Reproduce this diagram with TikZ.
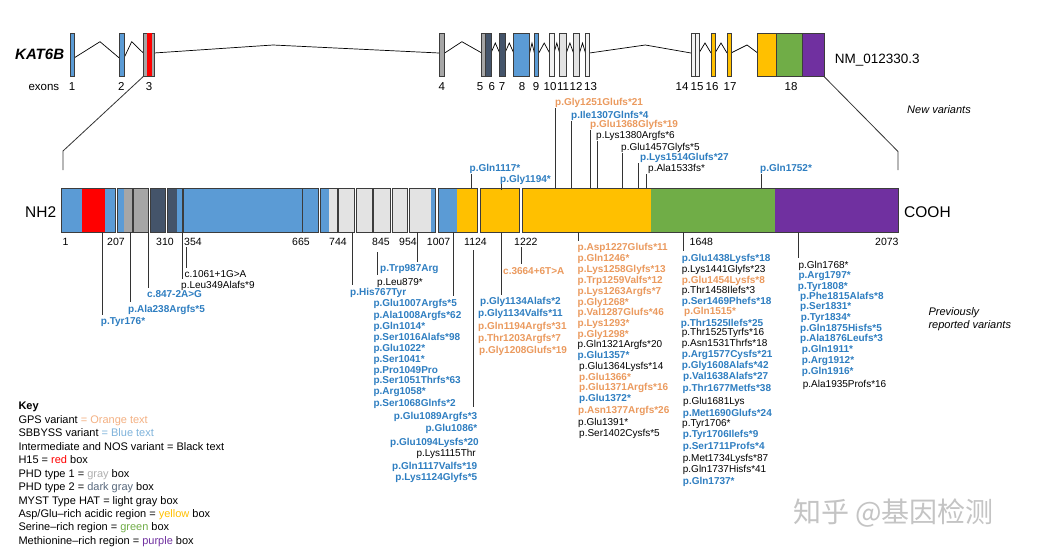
\documentclass[tikz,border=0pt]{standalone}
\usepackage{fontspec}
\setmainfont{Liberation Sans}
\newfontfamily\cjk{Noto Sans CJK SC}
\definecolor{cblue}{HTML}{5B9BD5}
\definecolor{cred}{HTML}{FF0000}
\definecolor{cgray}{HTML}{A6A6A6}
\definecolor{cdark}{HTML}{44546A}
\definecolor{clight}{HTML}{E3E3E3}
\definecolor{cwhite}{HTML}{F2F2F2}
\definecolor{cyel}{HTML}{FFC000}
\definecolor{cgreen}{HTML}{70AD47}
\definecolor{cpurp}{HTML}{7030A0}
\definecolor{outl}{HTML}{3C3C3C}
\definecolor{linec}{HTML}{333333}
\definecolor{torange}{HTML}{EB9A5E}
\definecolor{tblue}{HTML}{2E7EC1}
\definecolor{korange}{HTML}{F4B183}
\definecolor{kblue}{HTML}{7FB3DB}
\definecolor{kgray}{HTML}{B0B0B0}
\definecolor{kdark}{HTML}{5A6A7E}
\definecolor{wmark}{HTML}{C4C4C4}
\begin{document}
\begin{tikzpicture}[x=1pt,y=-1pt,
  lab/.style={anchor=west, inner sep=0pt, text height=7pt, text depth=0pt, font=\fontsize{10}{11}\selectfont},
  ob/.style={lab, text=torange, font=\fontsize{10}{11}\selectfont\bfseries},
  bb/.style={lab, text=tblue, font=\fontsize{10}{11}\selectfont\bfseries},
  kb/.style={lab, text=black},
  obr/.style={ob, anchor=east},
  bbr/.style={bb, anchor=east},
  kbr/.style={kb, anchor=east},
  num/.style={anchor=west, inner sep=0pt, text height=7.5pt, text depth=0pt, font=\fontsize{10.5}{12}\selectfont},
  exn/.style={anchor=center, inner sep=0pt, text height=8pt, text depth=0pt, font=\fontsize{11.5}{13}\selectfont},
  keyt/.style={anchor=west, inner sep=0pt, text height=8pt, text depth=0pt, font=\fontsize{11}{13}\selectfont},
  ital/.style={keyt, font=\fontsize{11}{13}\selectfont\itshape},
  big/.style={anchor=west, inner sep=0pt, text height=11pt, text depth=0pt, font=\fontsize{15.5}{18}\selectfont},
  seg/.style={draw=outl, line width=0.8pt},
  ex/.style={draw=outl, line width=0.7pt},
  intr/.style={draw=black, line width=0.7pt},
  tick/.style={draw=linec, line width=0.8pt}]
\fill[white] (0,0) rectangle (1042,557);
\useasboundingbox (0,0) rectangle (1042,557);

% ---------------- gene structure ----------------
\node[big, font=\fontsize{15}{18}\selectfont\bfseries\itshape] (gene) at (15,54) {KAT6B};
\node[keyt, font=\fontsize{11.5}{13}\selectfont] (exons) at (28.3,86.7) {exons};
\node[keyt, font=\fontsize{13.5}{16}\selectfont, text height=9.5pt] (nm) at (834.7,58.3) {NM\_012330.3};

% introns
\draw[intr] (74,58) -- (100,41.7) -- (119.3,58);
\draw[intr] (124,58) -- (131.7,41.7) -- (143.3,53);
\draw[intr] (154,53) -- (273,45) -- (439.1,53);
\draw[intr] (444.7,53) -- (461.9,41.7) -- (481.8,53);
\draw[intr] (491,53) -- (495.3,43) -- (499.7,53);
\draw[intr] (504.9,53) -- (509.3,43) -- (513.7,53);
\draw[intr] (529.6,53) -- (532,43) -- (534.4,53);
\draw[intr] (538.8,53) -- (544.2,43) -- (549.6,53);
\draw[intr] (554,53) -- (556.8,43) -- (559.6,53);
\draw[intr] (566.3,53) -- (569.9,43) -- (573.5,53);
\draw[intr] (579.5,53) -- (582.5,43) -- (585.5,53);
\draw[intr] (589.5,53) -- (645.3,45) -- (691,53);
\draw[intr] (699,53) -- (705,43) -- (711,53);
\draw[intr] (715,53) -- (721,43) -- (727,53);
\draw[intr] (731,53) -- (747,45) -- (757.7,53);

% exons
\draw[ex, fill=cblue] (70.7,33) rectangle (74,76);
\draw[ex, fill=cblue] (119.3,33) rectangle (124,76);
\draw[ex, fill=cgray] (143.3,33) rectangle (154,76);
\fill[cred] (146.7,33.4) rectangle (151.7,75.6);
\draw[ex, fill=cgray] (439.1,33) rectangle (444.7,76);
\draw[ex, fill=cgray] (481.8,33) rectangle (485.8,76);
\draw[ex, fill=cdark] (485.8,33) rectangle (491,76);
\draw[ex, fill=cdark] (499.7,33) rectangle (504.9,76);
\draw[ex, fill=cblue] (513.7,33) rectangle (529.6,76);
\draw[ex, fill=cblue] (534.4,33) rectangle (538.8,76);
\draw[ex, fill=cwhite] (549.6,33) rectangle (554,76);
\draw[ex, fill=clight] (559.6,33) rectangle (566.3,76);
\draw[ex, fill=clight] (573.5,33) rectangle (579.5,76);
\draw[ex, fill=cwhite] (585.5,33) rectangle (589.5,76);
\draw[ex, fill=cwhite] (691,33) rectangle (695,76);
\draw[ex, fill=cwhite] (695,33) rectangle (699,76);
\draw[ex, fill=cyel] (711,33) rectangle (715,76);
\draw[ex, fill=cyel] (727,33) rectangle (731,76);
\fill[cyel] (757.7,33) rectangle (776,76);
\fill[cgreen] (776,33) rectangle (802,76);
\fill[cpurp] (802,33) rectangle (824,76);
\draw[ex] (757.7,33) rectangle (824,76);
\draw[ex] (776,33) -- (776,76);
\draw[ex] (802,33) -- (802,76);

% exon numbers
\foreach \n/\x in {1/72,2/121.3,3/149,4/441.7,5/480,6/491.7,7/502,8/522,9/536,10/550,11/563,12/576,13/590.5,14/682,15/697,16/712,17/730,18/791}
  \node[exn] (e\n) at (\x,86.7) {\n};

% zoom lines
\draw[tick] (143.3,76.5) -- (63,151) -- (63,170);
\draw[tick] (824,76.5) -- (898,151.5) -- (898,170);

\node[ital] (newv) at (907,109) {New variants};
\node[ital] (prev1) at (928.3,311) {Previously};
\node[ital] (prev2) at (928.3,324.3) {reported variants};

% ---------------- protein bar ----------------
\node[big] (nh2) at (25,211.7) {NH2};
\node[big] (cooh) at (904,212) {COOH};

\fill[cblue] (61,188) rectangle (82,232);
\fill[cred] (82,188) rectangle (105,232);
\fill[cblue] (105,188) rectangle (115,232);
\fill[cblue] (117,188) rectangle (124,232);
\fill[cgray] (124,188) rectangle (132,232);
\fill[cgray] (133,188) rectangle (148,232);
\fill[cdark] (150,188) rectangle (165,232);
\fill[cdark] (167,188) rectangle (177,232);
\fill[cblue] (177,188) rectangle (182,232);
\fill[cblue] (183,188) rectangle (318,232);
\fill[cblue] (320,188) rectangle (329,232);
\fill[clight] (329,188) rectangle (337,232);
\fill[clight] (338,188) rectangle (354,232);
\fill[clight] (356,188) rectangle (372,232);
\fill[clight] (373,188) rectangle (390,232);
\fill[clight] (392,188) rectangle (407,232);
\fill[clight] (409,188) rectangle (431,232);
\fill[cblue] (431,188) rectangle (435,232);
\fill[cblue] (438,188) rectangle (457,232);
\fill[cyel] (457,188) rectangle (477,232);
\fill[cyel] (480,188) rectangle (519,232);
\fill[cyel] (522,188) rectangle (651,232);
\fill[cgreen] (651,188) rectangle (775,232);
\fill[cpurp] (775,188) rectangle (898,232);
\foreach \a/\b in {61/115,117/132,133/148,150/165,167/182,183/302,302/318,320/337,338/354,356/372,373/390,392/407,409/435,438/477,480/519,522/898}
  \draw[seg] (\a,188) rectangle (\b,232);

% position numbers
\foreach \t/\x in {1/62.5,207/107,310/156,354/184,665/292,744/329,845/372,954/399,1124/464,1222/514,1648/689.5,2073/875}
  \node[num] (n\t) at (\x,241.7) {\t};
\node[num, anchor=east] (n1007) at (450.5,241.7) {1007};

% ---------------- variants above ----------------
\node[bb] (a1) at (469.5,168) {p.Gln1117*};
\node[bb] (a2) at (500,179) {p.Gly1194*};
\node[ob] (a3) at (555,101.5) {p.Gly1251Glufs*21};
\node[bb] (a4) at (571,115) {p.Ile1307Glnfs*4};
\node[ob] (a5) at (590,124) {p.Glu1368Glyfs*19};
\node[kb] (a6) at (596,135) {p.Lys1380Argfs*6};
\node[kb] (a7) at (621,147) {p.Glu1457Glyfs*5};
\node[bb] (a8) at (640,157) {p.Lys1514Glufs*27};
\node[kb] (a9) at (648,168) {p.Ala1533fs*};
\node[bb] (a10) at (760,168) {p.Gln1752*};
\draw[tick] (471.5,188) -- (471.5,174);
\draw[tick] (501.5,190) -- (501.5,184);
\draw[tick] (555.7,188) -- (555.7,108);
\draw[tick] (571.8,188) -- (571.8,121);
\draw[tick] (590,188) -- (590,130);
\draw[tick] (597.8,188) -- (597.8,141);
\draw[tick] (622,188) -- (622,153);
\draw[tick] (638,188) -- (638,163);
\draw[tick] (646.4,188) -- (646.4,174);
\draw[tick] (761.5,188) -- (761.5,174);

% ---------------- variants below ----------------
\node[bb] (b1) at (100.7,321) {p.Tyr176*};
\node[bb] (b2) at (128,308.5) {p.Ala238Argfs*5};
\node[bb] (b3) at (147,294) {c.847-2A>G};
\node[kb] (b4) at (184.5,273.5) {c.1061+1G>A};
\node[kb] (b5) at (181,285) {p.Leu349Alafs*9};
\node[bb] (b6) at (350,291.5) {p.His767Tyr};
\node[bb] (b7) at (380,268) {p.Trp987Arg};
\node[kb] (b8) at (377,281.5) {p.Leu879*};
\draw[tick] (102.3,232) -- (102.3,315);
\draw[tick] (130,232) -- (130,302);
\draw[tick] (148.3,232) -- (148.3,288);
\draw[tick] (186,247) -- (186,268);
\draw[tick] (182.7,232) -- (182.7,279);
\draw[tick] (352.3,232) -- (352.3,285);
\draw[tick] (417.5,232) -- (417.5,262);
\draw[tick] (377.7,252) -- (377.7,275);

% group c
\foreach \i/\y/\t in {1/303/p.Glu1007Argfs*5,2/315/p.Ala1008Argfs*62,3/326/p.Gln1014*,4/337/p.Ser1016Alafs*98,5/348/p.Glu1022*,6/358.5/p.Ser1041*,7/369.5/p.Pro1049Pro,8/379.5/p.Ser1051Thrfs*63,9/391/p.Arg1058*,10/403/p.Ser1068Glnfs*2}
  \node[bb] (c\i) at (373.3,\y) {\t};
\draw[tick] (453,232) -- (453,296);

% group d (right aligned)
\node[bbr] (d1) at (477.5,415.5) {p.Glu1089Argfs*3};
\node[bbr] (d2) at (477.5,428) {p.Glu1086*};
\node[bbr] (d3) at (479,441.5) {p.Glu1094Lysfs*20};
\node[kbr] (d4) at (476,452.5) {p.Lys1115Thr};
\node[bbr] (d5) at (477.5,465.5) {p.Gln1117Valfs*19};
\node[bbr] (d6) at (477.5,477) {p.Lys1124Glyfs*5};
\draw[tick] (473,250) -- (473,407);

% group e
\node[ob] (e0) at (503,270.5) {c.3664+6T>A};
\node[bb] (e1) at (480,301) {p.Gly1134Alafs*2};
\node[bb] (e2) at (478,313) {p.Gly1134Valfs*11};
\node[ob] (e3) at (478,326) {p.Gln1194Argfs*31};
\node[ob] (e4) at (478,338) {p.Thr1203Argfs*7};
\node[ob] (e5) at (479,350) {p.Gly1208Glufs*19};
\draw[tick] (521,247) -- (521,264);
\draw[tick] (501,232) -- (501,295);

% group f
\node[ob] (f1) at (577.5,247) {p.Asp1227Glufs*11};
\node[ob] (f2) at (577.5,258) {p.Gln1246*};
\node[ob] (f3) at (577.5,269) {p.Lys1258Glyfs*13};
\node[ob] (f4) at (577.5,280) {p.Trp1259Valfs*12};
\node[ob] (f5) at (577.5,291) {p.Lys1263Argfs*7};
\node[ob] (f6) at (577.5,301.5) {p.Gly1268*};
\node[ob] (f7) at (577.5,312) {p.Val1287Glufs*46};
\node[ob] (f8) at (577.5,323) {p.Lys1293*};
\node[ob] (f9) at (577.5,333.5) {p.Gly1298*};
\node[kb] (f10) at (577.5,344) {p.Gln1321Argfs*20};
\node[bb] (f11) at (577.5,354.5) {p.Glu1357*};
\node[kb] (f12) at (579,365.5) {p.Glu1364Lysfs*14};
\node[ob] (f13) at (579,376.5) {p.Glu1366*};
\node[ob] (f14) at (579,387) {p.Glu1371Argfs*16};
\node[bb] (f15) at (579,397.5) {p.Glu1372*};
\node[ob] (f16) at (578,409.5) {p.Asn1377Argfs*26};
\node[kb] (f17) at (578,421.5) {p.Glu1391*};
\node[kb] (f18) at (579,432.5) {p.Ser1402Cysfs*5};
\draw[tick] (578.5,232) -- (578.5,241);

% group g
\node[bb] (g1) at (681.7,257.5) {p.Glu1438Lysfs*18};
\node[kb] (g2) at (681.7,268.5) {p.Lys1441Glyfs*23};
\node[ob] (g3) at (681.7,280) {p.Glu1454Lysfs*8};
\node[kb] (g4) at (681.7,290) {p.Thr1458Ilefs*3};
\node[bb] (g5) at (681.7,300.5) {p.Ser1469Phefs*18};
\node[ob] (g6) at (684,311) {p.Gln1515*};
\node[bb] (g7) at (680.7,322.5) {p.Thr1525Ilefs*25};
\node[kb] (g8) at (681.7,331.5) {p.Thr1525Tyrfs*16};
\node[kb] (g9) at (681.7,343) {p.Asn1531Thrfs*18};
\node[bb] (g10) at (681.7,354) {p.Arg1577Cysfs*21};
\node[bb] (g11) at (681.7,364.5) {p.Gly1608Alafs*42};
\node[bb] (g12) at (683,376) {p.Val1638Alafs*27};
\node[bb] (g13) at (682.5,388) {p.Thr1677Metfs*38};
\node[kb] (g14) at (683,400.5) {p.Glu1681Lys};
\node[bb] (g15) at (682.7,412.5) {p.Met1690Glufs*24};
\node[kb] (g16) at (682,423) {p.Tyr1706*};
\node[bb] (g17) at (682.7,433.5) {p.Tyr1706Ilefs*9};
\node[bb] (g18) at (682.7,445.5) {p.Ser1711Profs*4};
\node[kb] (g19) at (682.7,458) {p.Met1734Lysfs*87};
\node[kb] (g20) at (682.7,469) {p.Gln1737Hisfs*41};
\node[bb] (g21) at (682.7,481) {p.Gln1737*};
\draw[tick] (683,232) -- (683,251);

% group h
\node[kb] (h1) at (798.3,265) {p.Gln1768*};
\node[bb] (h2) at (798.3,274.5) {p.Arg1797*};
\node[bb] (h3) at (797.7,285.5) {p.Tyr1808*};
\node[bb] (h4) at (800,296) {p.Phe1815Alafs*8};
\node[bb] (h5) at (800,306) {p.Ser1831*};
\node[bb] (h6) at (800.7,316.5) {p.Tyr1834*};
\node[bb] (h7) at (800,328) {p.Gln1875Hisfs*5};
\node[bb] (h8) at (800,337.5) {p.Ala1876Leufs*3};
\node[bb] (h9) at (801.7,349) {p.Gln1911*};
\node[bb] (h10) at (801.7,359.5) {p.Arg1912*};
\node[bb] (h11) at (801.7,371) {p.Gln1916*};
\node[kb] (h12) at (802.7,384) {p.Ala1935Profs*16};
\draw[tick] (798.5,232) -- (798.5,258);

% ---------------- key ----------------
\node[keyt, font=\fontsize{11}{13}\selectfont\bfseries] (k0) at (18.3,405.7) {Key};
\node[keyt] (k1) at (18.3,419.3) {GPS variant \textcolor{korange}{= Orange text}};
\node[keyt] (k2) at (18.3,432.7) {SBBYSS variant \textcolor{kblue}{= Blue text}};
\node[keyt] (k3) at (18.3,446) {Intermediate and NOS variant = Black text};
\node[keyt] (k4) at (18.3,459.7) {H15 = \textcolor{cred}{red} box};
\node[keyt] (k5) at (18.3,473) {PHD type 1 = \textcolor{kgray}{gray} box};
\node[keyt] (k6) at (18.3,486.7) {PHD type 2 = \textcolor{kdark}{dark gray} box};
\node[keyt] (k7) at (18.3,500) {MYST Type HAT = light gray box};
\node[keyt] (k8) at (18.3,513.3) {Asp/Glu–rich acidic region = \textcolor{cyel}{yellow} box};
\node[keyt] (k9) at (18.3,526.7) {Serine–rich region = \textcolor{cgreen}{green} box};
\node[keyt] (k10) at (18.3,540) {Methionine–rich region = \textcolor{cpurp}{purple} box};

% watermark
\node[anchor=west, inner sep=0pt, text=wmark, font=\cjk\fontsize{28}{32}\selectfont] (wm) at (793,513) {知乎 @基因检测};
\end{tikzpicture}
\end{document}
